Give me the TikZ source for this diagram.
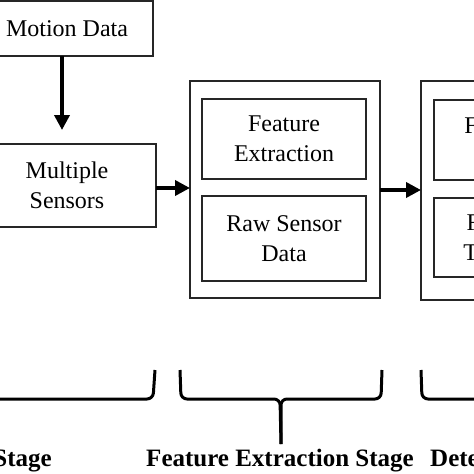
\documentclass[tikz,border=0pt]{standalone}
\usepackage{fontspec}
\setmainfont{Liberation Serif}
\usetikzlibrary{arrows.meta}
\begin{document}
\begin{tikzpicture}[x=1pt,y=-1pt,
  boxstyle/.style={draw=black!85, line width=1.4pt, fill=white},
  boxtext/.style={font=\fontsize{24}{29.5}\selectfont, align=center, text=black},
  flowarrow/.style={line width=3.6pt, -{Triangle[length=15pt,width=15pt]}},
  bracestyle/.style={line width=3pt, rounded corners=6pt},
  stagelabel/.style={font=\fontsize{25}{30}\selectfont\bfseries, text=black, inner sep=0pt}]
\useasboundingbox (0,0) rectangle (474,474);
\clip (0,0) rectangle (474,474);
\fill[white] (0,0) rectangle (474,474);

% column 1
\draw[boxstyle] (-19,1) rectangle (153,56);
\node[boxtext] (motion) at (67,28.5) {Motion Data};
\coordinate (motionbot) at (62,56);
\draw[boxstyle] (-22,144) rectangle (156,227);
\node[boxtext] (sensors) at (67,185.5) {Multiple\\Sensors};
\coordinate (sensorstop) at (62,130);
\coordinate (sensorsright) at (156,188);

% feature extraction stage
\draw[boxstyle] (190,81) rectangle (380,298);
\coordinate (feleft) at (190,188);
\coordinate (feright) at (380,190);
\draw[boxstyle] (202,99) rectangle (366,179);
\node[boxtext] (fe) at (284,139) {Feature\\Extraction};
\draw[boxstyle] (202,196) rectangle (366,281);
\node[boxtext] (raw) at (284,238.5) {Raw Sensor\\Data};

% detection stage
\draw[boxstyle] (421,81) rectangle (611,300);
\coordinate (detleft) at (421,190);
\draw[boxstyle] (434,100) rectangle (598,180);
\node[boxtext] (det1) at (520,140) {Fall Pattern\\Model};
\draw[boxstyle] (434,198) rectangle (598,277);
\node[boxtext] (det2) at (512,237.5) {Fall Type\\Threshold};

% arrows
\draw[flowarrow] (motionbot) -- (sensorstop);
\draw[flowarrow] (sensorsright) -- (feleft);
\draw[flowarrow] (feright) -- (detleft);

% braces
\draw[bracestyle] (-300,399) -- (153,399) -- (155,370);
\draw[bracestyle] (180,370) -- (181,399) -- (280,399) -- (281,444);
\draw[bracestyle] (281,444) -- (281,399) -- (381,399) -- (382,370);
\draw[bracestyle] (421,370) -- (422,399) -- (520,399);

% labels
\node[stagelabel, anchor=base east] (lab1) at (52,466) {Data Collection Stage};
\node[stagelabel, anchor=base] (lab2) at (280,466) {Feature Extraction Stage};
\node[stagelabel, anchor=base west] (lab3) at (430,466) {Detection Stage};
\end{tikzpicture}
\end{document}
